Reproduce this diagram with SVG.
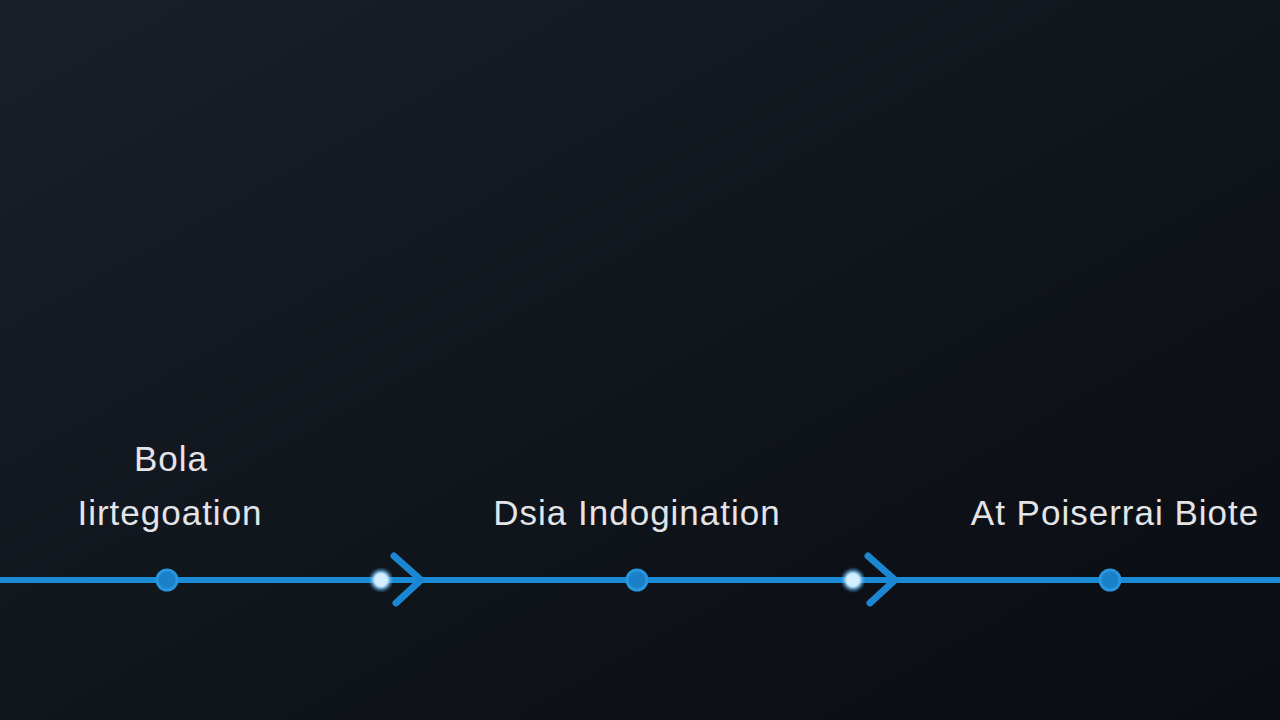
<svg xmlns="http://www.w3.org/2000/svg" width="1280" height="720" viewBox="0 0 1280 720">
<defs>
<linearGradient id="bg" x1="0" y1="0" x2="1" y2="1">
<stop offset="0" stop-color="#1a1f28"/>
<stop offset="0.6" stop-color="#0f131a"/>
<stop offset="1" stop-color="#0a0d12"/>
</linearGradient>
<radialGradient id="glow">
<stop offset="0" stop-color="#e8f6ff"/>
<stop offset="0.5" stop-color="#a9dcff"/>
<stop offset="1" stop-color="#2a9be0" stop-opacity="0"/>
</radialGradient>
<filter id="blur" x="-50%" y="-50%" width="200%" height="200%"><feGaussianBlur stdDeviation="1.5"/></filter>
</defs>
<style>
.lbl{font-family:"Liberation Sans",Arial,sans-serif;font-size:35px;letter-spacing:1px;fill:#e2e4e8;text-anchor:middle}
.line{stroke:#1b8bd6;stroke-width:6;fill:none}
.chev{stroke:#1b86d2;stroke-width:7;fill:none;stroke-linecap:round;stroke-linejoin:round}
.node{fill:#1a80c8;stroke:#2796de;stroke-width:3}
</style>
<rect width="1280" height="720" fill="url(#bg)"/>
<g id="connectors">
<line class="line" x1="0" y1="580" x2="1280" y2="580"/>
<polyline class="chev" points="394,556 421,580 396,603"/>
<polyline class="chev" points="868,556 895,580 870,603"/>
</g>
<g id="node1">
<circle class="node" cx="167" cy="580" r="10"/>
<text class="lbl" x="171" y="471">Bola</text>
<text class="lbl" x="170" y="525">Iirtegoation</text>
</g>
<g id="node2">
<circle class="node" cx="637" cy="580" r="10"/>
<text class="lbl" x="637" y="525">Dsia Indogination</text>
</g>
<g id="node3">
<circle class="node" cx="1110" cy="580" r="10"/>
<text class="lbl" x="1115" y="525">At Poiserrai Biote</text>
</g>
<g id="dot1">
<circle cx="381" cy="580" r="13" fill="url(#glow)"/>
<circle cx="381" cy="580" r="7" fill="#d6efff" filter="url(#blur)"/>
</g>
<g id="dot2">
<circle cx="853" cy="580" r="13" fill="url(#glow)"/>
<circle cx="853" cy="580" r="7" fill="#d6efff" filter="url(#blur)"/>
</g>
</svg>
